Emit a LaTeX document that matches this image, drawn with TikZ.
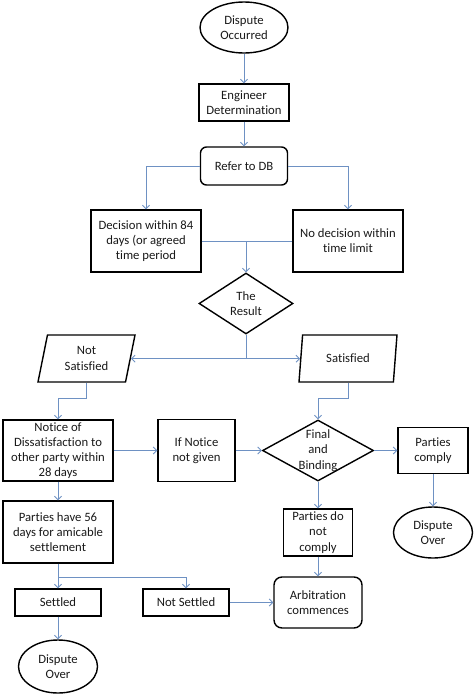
\documentclass[tikz,border=0pt]{standalone}
\usepackage{fontspec}
\setmainfont{Carlito}[Ligatures=NoCommon]
\usetikzlibrary{shapes.geometric,arrows.meta}
\definecolor{conn}{RGB}{110,145,195}
\tikzset{
  base/.style={draw=black, line width=1.4pt, align=center, inner sep=0pt, text=black!90,
    font=\fontsize{12.7}{15.2}\selectfont},
  box/.style={base, rectangle},
  rbox/.style={base, rectangle, rounded corners=6pt},
  oval/.style={base, ellipse},
  dia/.style={base, diamond},
  para/.style={base, trapezium, trapezium left angle=68, trapezium right angle=112, trapezium stretches body},
  lbl/.style={align=center, inner sep=0pt, text=black!90, font=\fontsize{12.7}{15.2}\selectfont},
  conline/.style={draw=conn, line width=0.9pt},
  arr/.style={conline, -{Straight Barb[length=3.5pt,width=7pt]}}
}
\begin{document}
\begin{tikzpicture}[x=1pt,y=-1pt]
\useasboundingbox (0,0) rectangle (474,694);
\node[oval, minimum width=88, minimum height=51] (occ) at (244,27.5) {Dispute\\Occurred};
\node[box, minimum width=90, minimum height=37] (eng) at (244,102.5) {Engineer\\Determination};
\node[rbox, minimum width=87, minimum height=38] (db) at (244,166) {Refer to DB};
\node[box, minimum width=110, minimum height=62] (dec) at (146,241) {Decision within 84\\days (or agreed\\time period};
\node[box, minimum width=110, minimum height=62] (nod) at (348,241) {No decision within\\time limit};
\node[dia, minimum width=94, minimum height=61] (res) at (246,303.5) {};
\node[lbl] (rest) at (res.center) {The\\Result};
\node[para, minimum width=97, minimum height=47] (ns) at (86.5,358.5) {Not\\Satisfied};
\node[para, minimum width=98, minimum height=47] (sat) at (348,358.5) {Satisfied};
\node[box, minimum width=110, minimum height=61] (notice) at (58,450.5) {Notice of\\Dissatisfaction to\\other party within\\28 days};
\node[box, minimum width=77, minimum height=62] (ifn) at (196.5,450.5) {If Notice\\not given};
\node[dia, minimum width=111, minimum height=61] (fb) at (318,450.5) {};
\node[lbl] (fbt) at (fb.center) {Final\\and\\Binding};
\node[box, minimum width=70, minimum height=46] (pc) at (433,450.5) {Parties\\comply};
\node[oval, minimum width=79, minimum height=51] (do2) at (433,532.5) {Dispute\\Over};
\node[box, minimum width=69, minimum height=47] (pdnc) at (318,532.5) {Parties do\\not\\comply};
\node[rbox, rounded corners=8pt, minimum width=88, minimum height=51] (arb) at (318,602.5) {Arbitration\\commences};
\node[box, minimum width=110, minimum height=62] (p56) at (58,532) {Parties have 56\\days for amicable\\settlement};
\node[box, minimum width=86, minimum height=27] (set) at (58,602.5) {Settled};
\node[box, minimum width=86, minimum height=27] (nset) at (186,602.5) {Not Settled};
\node[oval, minimum width=79, minimum height=53] (do1) at (58,666.5) {Dispute\\Over};

\draw[arr] (occ.south) -- (eng.north);
\draw[arr] (eng.south) -- (db.north);
\draw[arr] (db.west) -| (dec.north);
\draw[arr] (db.east) -| (nod.north);
\draw[conline] (dec.east) -- (nod.west);
\draw[arr] (dec.east -| res.north) -- (res.north);
\draw[conline] (res.south) -- ++(0,24) coordinate (rj);
\draw[arr] (rj) -- (rj -| ns.east);
\draw[arr] (rj) -- (rj -| sat.west);
\draw[arr] (ns.south) -- ++(0,16) -| (notice.north);
\draw[arr] (sat.south) -- ++(0,16) -| (fb.north);
\draw[arr] (notice.east) -- (ifn.west);
\draw[arr] (ifn.east) -- (fb.west);
\draw[arr] (fb.east) -- (pc.west);
\draw[arr] (pc.south) -- (do2.north);
\draw[arr] (fb.south) -- (pdnc.north);
\draw[arr] (pdnc.south) -- (arb.north);
\draw[arr] (notice.south) -- (p56.north);
\draw[conline] (p56.south) -- ++(0,14) coordinate (pj);
\draw[arr] (pj) -- (set.north);
\draw[arr] (pj) -| (nset.north);
\draw[arr] (nset.east) -- (arb.west);
\draw[arr] (set.south) -- (do1.north);
\end{tikzpicture}
\end{document}
